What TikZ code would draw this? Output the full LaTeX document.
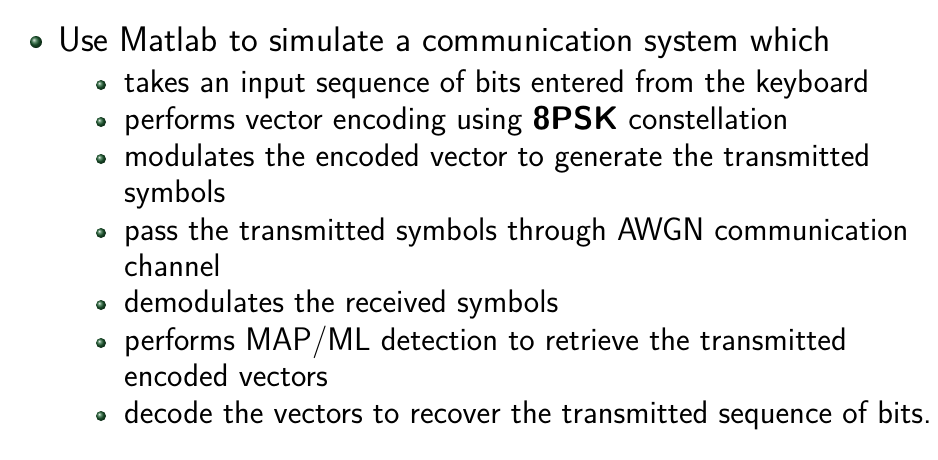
\documentclass[tikz,border=0pt]{standalone}
\usepackage{tikz}
\definecolor{bgreen}{rgb}{0.12,0.38,0.2}
\tikzset{
  main/.style={anchor=base west, inner sep=0pt, font=\fontsize{35.5}{40}\sffamily},
  sub/.style={anchor=base west, inner sep=0pt, font=\fontsize{32.6}{38}\sffamily},
  bigball/.style={circle, shading=ball, ball color=bgreen, minimum size=12pt, inner sep=0pt},
  smallball/.style={circle, shading=ball, ball color=bgreen, minimum size=10pt, inner sep=0pt}
}
\begin{document}
\begin{tikzpicture}[x=1pt,y=-1pt]
\useasboundingbox (0,0) rectangle (938,459);
\node[bigball] (b0) at (36,42) {};
\node[main] (t0) at (58,51) {Use Matlab to simulate a communication system which};
\node[smallball] (b1) at (101,85) {};
\node[sub] (t1) at (124,92) {takes an input sequence of bits entered from the keyboard};
\node[smallball] (b2) at (101,122) {};
\node[sub] (t2) at (124,129) {performs vector encoding using \textbf{8PSK} constellation};
\node[smallball] (b3) at (101,159) {};
\node[sub] (t3) at (124,166) {modulates the encoded vector to generate the transmitted};
\node[sub] (t3b) at (124,202) {symbols};
\node[smallball] (b4) at (101,233) {};
\node[sub] (t4) at (124,240) {pass the transmitted symbols through AWGN communication};
\node[sub] (t4b) at (124,276) {channel};
\node[smallball] (b5) at (101,305) {};
\node[sub] (t5) at (124,312) {demodulates the received symbols};
\node[smallball] (b6) at (101,343) {};
\node[sub] (t6) at (124,350) {performs MAP/ML detection to retrieve the transmitted};
\node[sub] (t6b) at (124,386) {encoded vectors};
\node[smallball] (b7) at (101,416) {};
\node[sub] (t7) at (124,423) {decode the vectors to recover the transmitted sequence of bits.};
\end{tikzpicture}
\end{document}
